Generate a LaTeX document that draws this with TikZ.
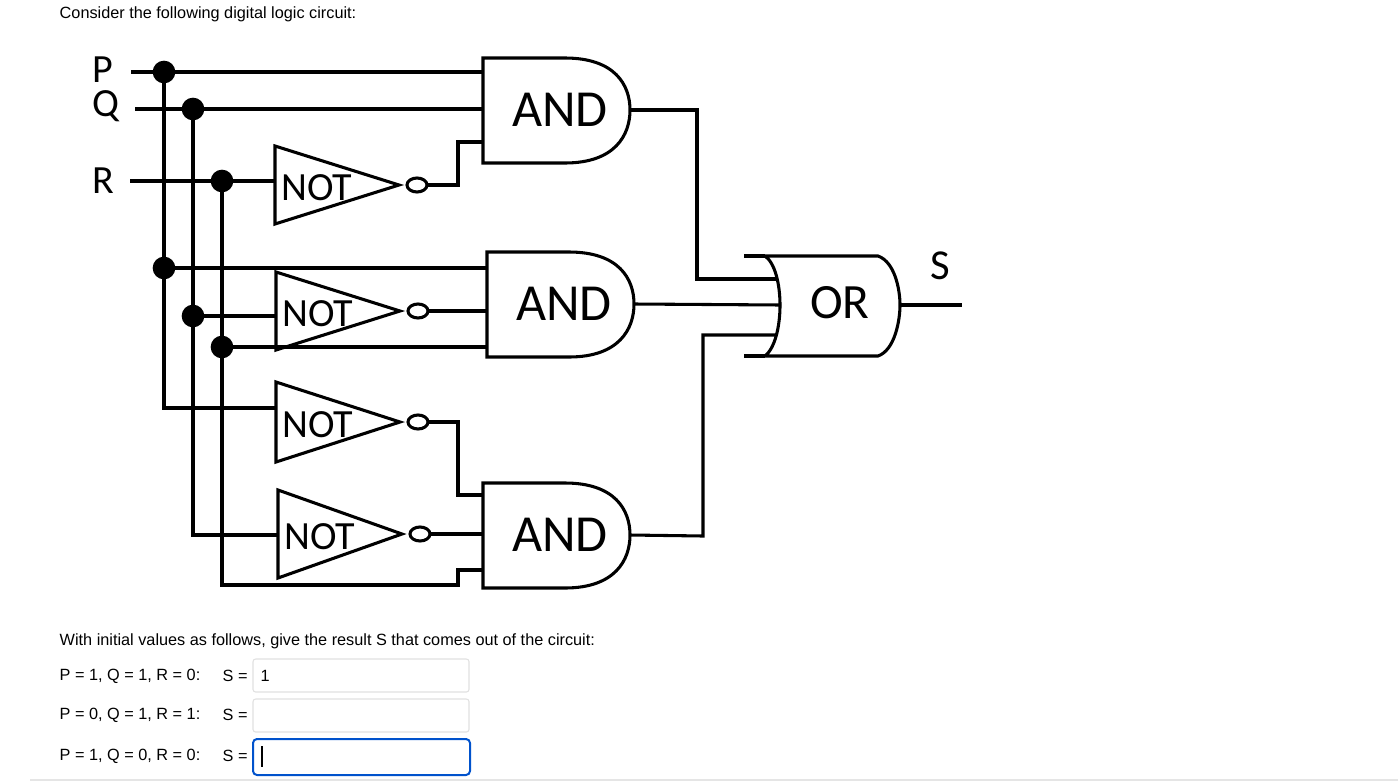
\documentclass[tikz,border=0pt]{standalone}
\usepackage{fontspec}
\setmainfont{Liberation Sans}
\newfontfamily\gatefont{Carlito}
\usetikzlibrary{positioning}

\tikzset{
    wire/.style={line width=2.3pt, line join=miter},
    gate/.style={line width=2.3pt, fill=white},
    dot/.style={circle, fill=black, inner sep=0pt, minimum size=17pt},
    glabel/.style={font=\gatefont\fontsize{39}{39}\selectfont},
    nlabel/.style={font=\gatefont\fontsize{30}{30}\selectfont},
    inlabel/.style={inner sep=0pt, font=\gatefont\fontsize{30}{30}\selectfont},
    qtext/.style={anchor=west, font=\fontsize{12.2}{14}\selectfont},
    answer/.style={draw=black!12, rounded corners=2pt, line width=0.8pt}
}

% AND gate: left x, top y, name
\newcommand{\andgate}[3]{
    \draw[gate] (#1,#2) -- ++(82,0) .. controls +(50,0) and +(0,-25) .. ++(147-82,52)
        .. controls +(0,25) and +(50,0) .. ++(-65,53) -- ++(-82,0) -- cycle;
    \coordinate (#3) at (#1+147,#2+52);
    \node[glabel] at (#1+77,#2+52) {AND};
}
% NOT gate: left x, top y, height, name
\newcommand{\notgate}[4]{
    \draw[gate] (#1,#2) -- (#1+124,#2+#3/2) -- (#1,#2+#3) -- cycle;
    \node[nlabel] at (#1+42,#2+#3/2+3) {NOT};
    \draw[gate] (#1+142,#2+#3/2) ellipse [x radius=10, y radius=7];
    \coordinate (#4) at (#1+152,#2+#3/2);
}

\begin{document}
\begin{tikzpicture}[x=0.75pt, y=-0.75pt]
    \useasboundingbox (0,0) rectangle (1398,782);

    % Gates
    \andgate{483}{58}{and1}
    \andgate{487}{252}{and2}
    \andgate{483}{483}{and3}
    \notgate{275}{146}{78}{not1}
    \notgate{276}{272}{78}{not2}
    \notgate{276}{382}{80}{not3}
    \notgate{278}{490}{88}{not4}

    % Inputs
    \node[inlabel] (P) at (103,70) {P};
    \node[inlabel] (Q) at (106,106) {Q};
    \node[inlabel] (R) at (103,181) {R};

    \coordinate (p0) at (131,72);
    \coordinate (q0) at (135,109);
    \coordinate (r0) at (130,181);

    \draw[wire] (p0) -- (483,72);
    \draw[wire] (q0) -- (483,109);
    \draw[wire] (r0) -- (275,181);

    % Vertical taps
    \draw[wire] (164,72) -- (164,408) -- (276,408);
    \draw[wire] (193,109) -- (193,535) -- (278,535);
    \draw[wire] (222,181) -- (222,585) -- (458,585) -- (458,570) -- (483,570);
    \draw[wire] (164,268) -- (487,268);
    \draw[wire] (193,316) -- (276,316);
    \draw[wire] (222,347) -- (487,347);

    \node[dot] at (164,72) {};
    \node[dot] at (193,109) {};
    \node[dot] at (222,181) {};
    \node[dot] at (164,268) {};
    \node[dot] at (193,316) {};
    \node[dot] at (222,347) {};

    % NOT outputs
    \draw[wire] (not1) -- (458,185) -- (458,142) -- (483,142);
    \draw[wire] (not2) -- (487,311);
    \draw[wire] (not3) -- (458,422) -- (458,495) -- (483,495);
    \draw[wire] (not4) -- (483,534);

    % OR gate
    \draw[gate] (765,256) -- (878,256) .. controls (895,262) and (900,290) .. (900,305)
        .. controls (900,320) and (895,350) .. (878,356) -- (765,356)
        .. controls (785,340) and (785,270) .. (765,256);
    \draw[gate] (744,256) -- (765,256) (744,356) -- (765,356);
    \node[font=\gatefont\fontsize{37}{37}\selectfont] (or) at (840,303) {OR};
    \coordinate (out) at (962,305);

    \draw[wire] (and1) -- (697,110) -- (697,279) -- (776,279);
    \draw[wire] (and2) -- (781,305);
    \draw[wire] (and3) -- (703,536) -- (703,335) -- (776,335);
    \draw[wire] (900,305) -- (out);
    \node[font=\gatefont\fontsize{32}{32}\selectfont] (S) at (940,266) {S};

    % Question text
    \node[qtext] (q1) at (55,14) {Consider the following digital logic circuit:};
    \node[qtext] (q2) at (55,641) {With initial values as follows, give the result S that comes out of the circuit:};
    \node[qtext] (l1) at (55,676) {P = 1, Q = 1, R = 0:};
    \node[qtext] (l2) at (55,715) {P = 0, Q = 1, R = 1:};
    \node[qtext] (l3) at (55,756) {P = 1, Q = 0, R = 0:};
    \node[qtext] (s1) at (218,676) {S =};
    \node[qtext] (s2) at (218,715) {S =};
    \node[qtext] (s3) at (218,756) {S =};
    \draw[answer] (253,659) rectangle (469,692);
    \draw[answer] (253,699) rectangle (469,732);
    \draw[draw=blue!60!cyan!80!black, rounded corners=3pt, line width=1.5pt] (253,739) rectangle (470,775);
    \node[qtext] (a1) at (256,676) {1};
    \draw[line width=0.8pt] (262,746) -- (262,767);
    \draw[black!10, line width=1.5pt] (30,780) -- (1398,780);
\end{tikzpicture}
\end{document}
